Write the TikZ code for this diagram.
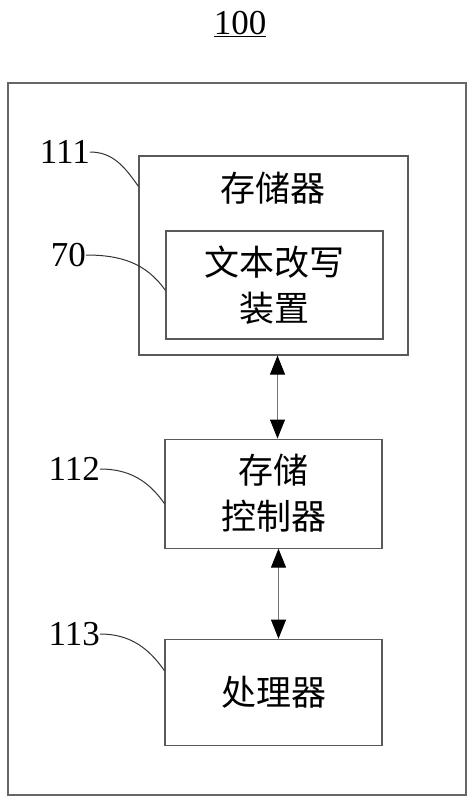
\documentclass[tikz,border=0pt]{standalone}
\usepackage{fontspec}
\setmainfont{Liberation Serif}
\newfontfamily\cjk{Noto Sans CJK SC}
\usetikzlibrary{arrows.meta,positioning}
\tikzset{
    frame/.style={draw=black!60, line width=1.3pt, inner sep=0pt},
    block/.style={draw=black!65, line width=1.1pt, minimum width=217pt, inner sep=0pt, align=center, font=\cjk\fontsize{35}{46}\selectfont},
    cjktext/.style={inner sep=0pt, font=\cjk\fontsize{35}{46}\selectfont},
    num/.style={inner sep=0pt, font=\fontsize{35}{40}\selectfont},
    leader/.style={line width=1pt, black!80},
    link/.style={{Triangle[length=19pt, width=15pt, color=black]}-{Triangle[length=19pt, width=15pt, color=black]}, line width=1pt, black!55}
}

\begin{document}
\begin{tikzpicture}[x=1pt, y=-1pt]
    \useasboundingbox (0,0) rectangle (474,804);
    \node[num] (title) at (240,24) {\underline{100}};
    \node[frame, minimum width=458pt, minimum height=712pt] (system) at (237,439) {};

    \node[block, minimum width=269pt, minimum height=199pt] (memory) at (273.5,255.5) {};
    \node[cjktext] (memname) at (273,188) {存储器};
    \node[block, minimum height=108pt] (rewriter) at (274.5,285) {文本改写\\装置};
    \node[block, minimum height=109pt, below=83pt of memory] (controller) {存储\\控制器};
    \node[block, minimum height=106pt, below=90pt of controller] (processor) {处理器};

    \node[num, anchor=east] (n111) at (90,152) {111};
    \node[num, anchor=east] (n70) at (86,255) {70};
    \node[num, anchor=east] (n112) at (100,469) {112};
    \node[num, anchor=east] (n113) at (100,634) {113};

    \draw[link] ([xshift=4pt]memory.south) -- ([xshift=4pt]controller.north);
    \draw[link] ([xshift=5pt]controller.south) -- ([xshift=5pt]processor.north);

    \draw[leader] (n111.east) to[out=0, in=125] ([yshift=-31pt]memory.north west);
    \draw[leader] (n70.east) to[out=0, in=125] ([yshift=-60pt]rewriter.north west);
    \draw[leader] (n112.east) to[out=0, in=125] ([yshift=-65pt]controller.north west);
    \draw[leader] (n113.east) to[out=0, in=125] ([yshift=-32pt]processor.north west);
\end{tikzpicture}
\end{document}
